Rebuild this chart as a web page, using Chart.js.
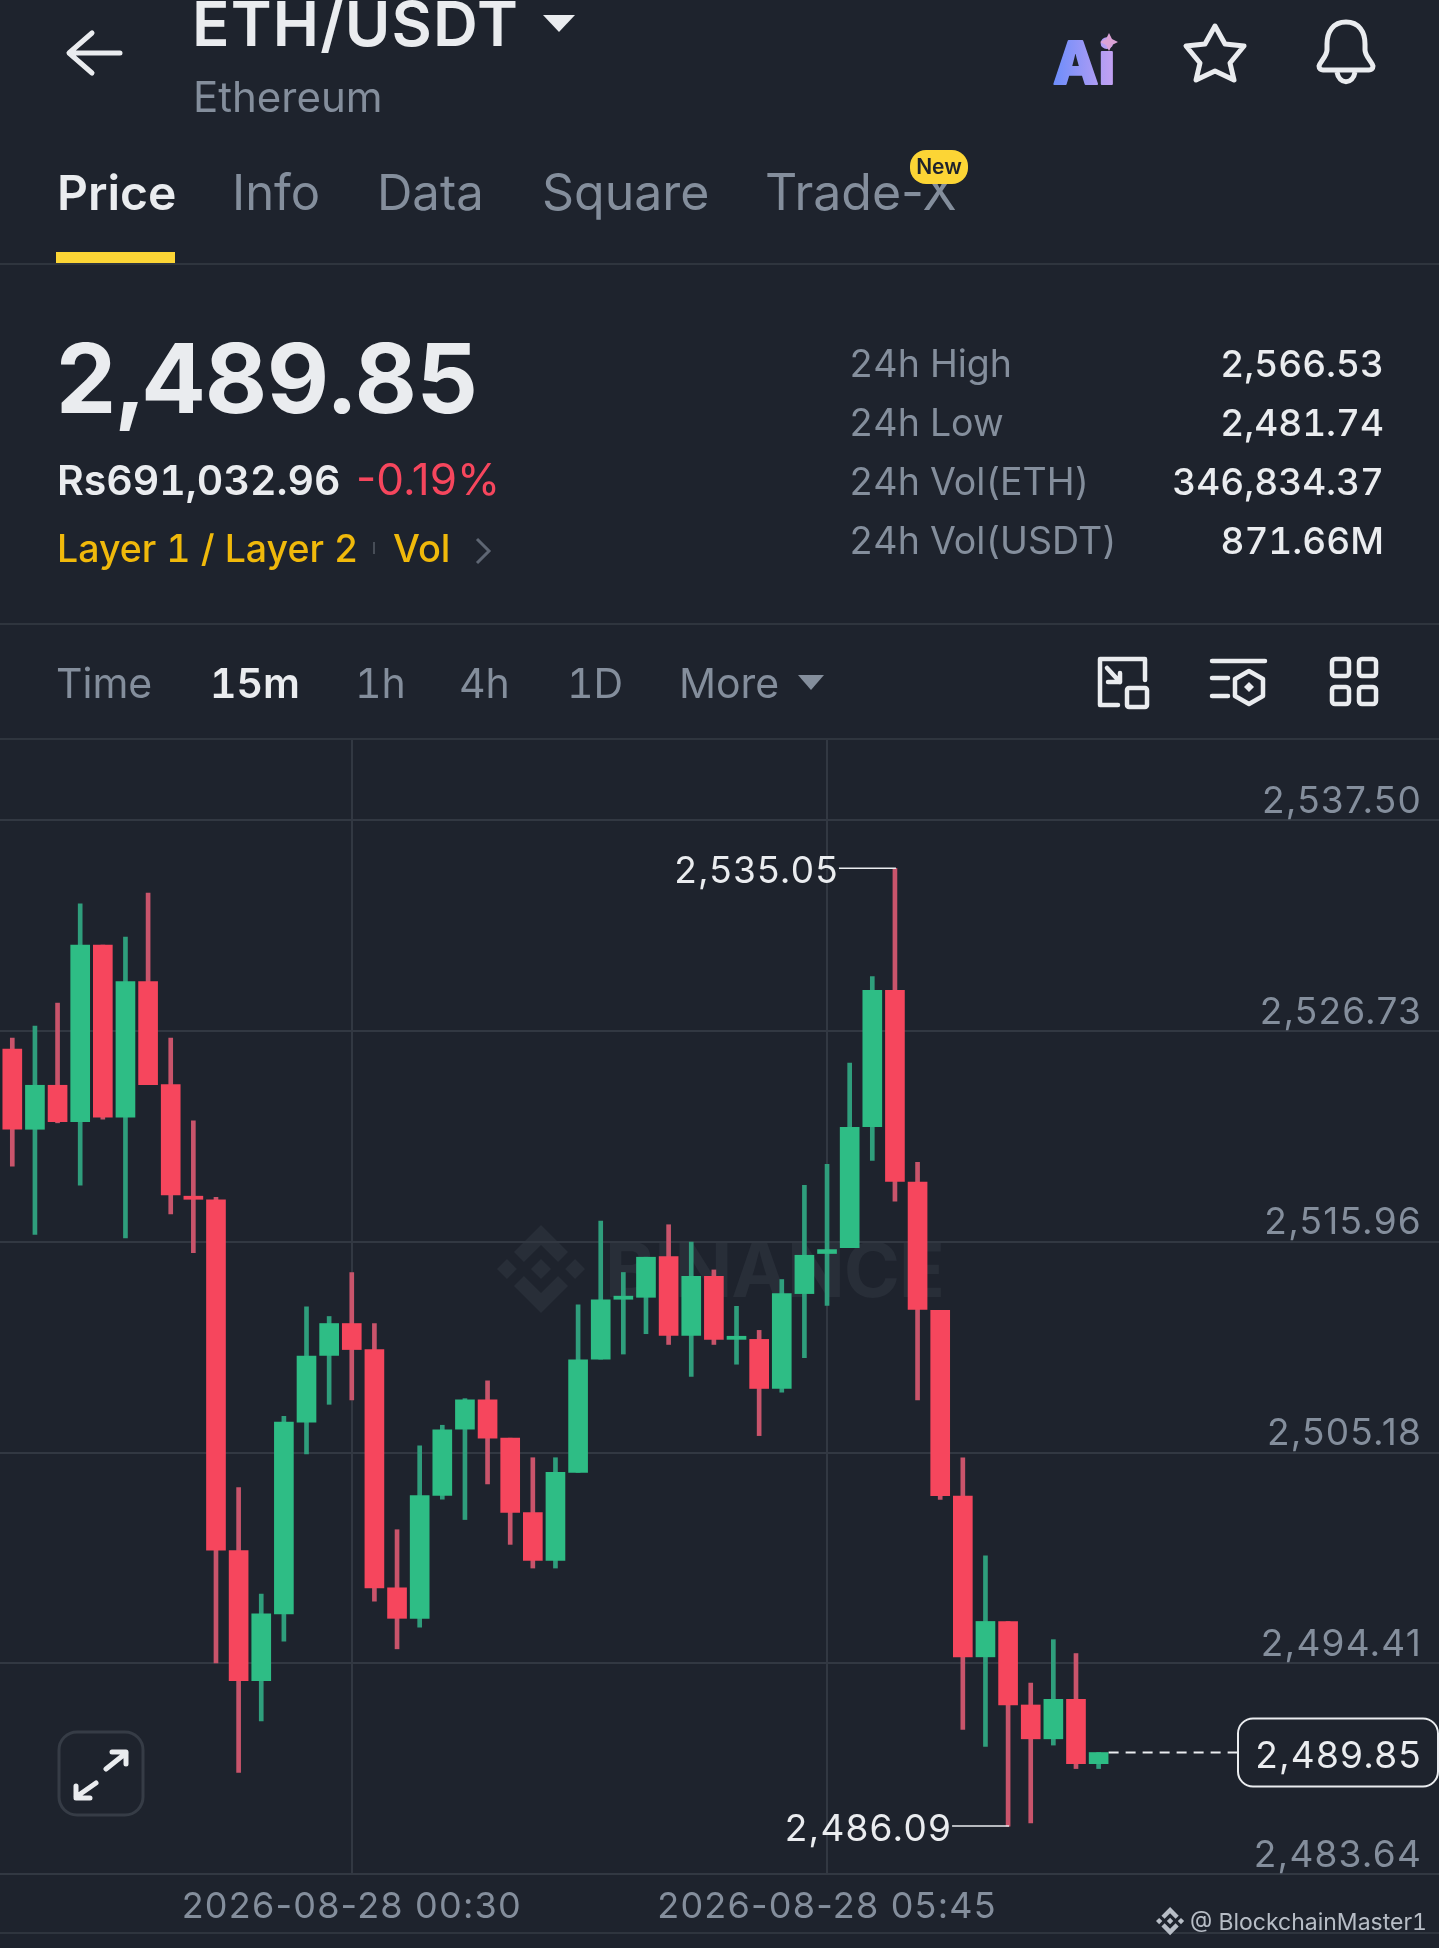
<!DOCTYPE html>
<html>
<head>
<meta charset="utf-8">
<title>ETH/USDT</title>
<script src="https://cdn.jsdelivr.net/npm/chart.js@4"></script>
<style>
  html, body { margin: 0; padding: 0; background: #1e232d; }
  #page { position: relative; width: 1439px; height: 1948px; overflow: hidden; background: #1e232d; font-family: Inter, sans-serif; }
  #under, #over { position: absolute; left: 0; top: 0; }
  #chartBox { position: absolute; left: 0; top: 740px; width: 1439px; height: 1193px; }
  text { font-family: Inter, sans-serif; font-variant-numeric: tabular-nums; }
  .gray { fill: #848e9c; }
  .light { fill: #eaecef; }
  .yellow { fill: #f0b90b; }
  .plain { font-variant-numeric: normal; }
</style>
</head>
<body>
<div id="page">
  <!-- watermark sits under the canvas -->
  <svg id="under" width="1439" height="1948">
    <g transform="translate(497,1225) scale(2.75)" fill="#282e38">
      <path d="M9.786 13.445 16 7.232l6.217 6.217 3.616-3.616L16 0 6.17 9.83l3.616 3.615zM0 16l3.616-3.616L7.232 16l-3.616 3.615zm9.786 2.556L16 24.768l6.217-6.217 3.618 3.613L16 32l-9.83-9.83-.005-.005zM24.768 16l3.616-3.616L32 16l-3.615 3.616zm-5.1 0L16 12.334 12.336 16 16 19.668z"/>
    </g>
    <text x="605" y="1297" font-size="76" font-weight="700" fill="#282e38" textLength="340">BINANCE</text>
  </svg>

  <div id="chartBox"><canvas id="klineChart"></canvas></div>

  <svg id="over" width="1439" height="1948" style="pointer-events:none">
    <defs>
      <linearGradient id="aiGrad" x1="0" y1="0" x2="1" y2="0">
        <stop offset="0" stop-color="#6c8dfb"/>
        <stop offset="1" stop-color="#c6a2f2"/>
      </linearGradient>
    </defs>

    <!-- top bar -->
    <path d="M120 53H70M92 33L69 53L92 73" fill="none" stroke="#eaecef" stroke-width="5" stroke-linecap="round" stroke-linejoin="round"/>
    <text x="192" y="46" font-size="62" font-weight="600" class="light" textLength="326">ETH/USDT</text>
    <path d="M543 15H575L559 32Z" fill="#eaecef"/>
    <text x="193" y="112" font-size="42" class="gray">Ethereum</text>
    <text x="1053" y="84" font-size="59" font-weight="800" fill="url(#aiGrad)" stroke="url(#aiGrad)" stroke-width="2" stroke-linejoin="round">Ai</text>
    <path d="M1109 33l3 6 6 3-6 3-3 6-3-6-6-3 6-3z" fill="#dba3d6"/>
    <path d="M1215 26L1225 44L1244 46L1230 63L1234 80L1215 71L1196 80L1200 63L1186 46L1205 44Z" fill="none" stroke="#eaecef" stroke-width="5" stroke-linejoin="round"/>
    <path d="M1346 22C1333 22 1327 32 1327 44V50C1327 56 1320 62 1319 66C1319 69 1321 70 1323 70H1369C1371 70 1373 69 1373 66C1372 62 1365 56 1365 50V44C1365 32 1359 22 1346 22Z" fill="none" stroke="#eaecef" stroke-width="5" stroke-linejoin="round"/>
    <path d="M1337 72C1339 85 1353 85 1355 72" fill="none" stroke="#eaecef" stroke-width="5"/>

    <!-- tabs -->
    <text x="57" y="210" font-size="48" font-weight="600" class="light">Price</text>
    <text x="232" y="210" font-size="49" class="gray">Info</text>
    <text x="377" y="210" font-size="49" class="gray">Data</text>
    <text x="542" y="210" font-size="50" class="gray">Square</text>
    <text x="765" y="210" font-size="50" class="gray plain">Trade-X</text>
    <rect x="910" y="150" width="58" height="34" rx="16" fill="#fcd535"/>
    <text x="939" y="174" font-size="21" font-weight="600" fill="#1e232d" text-anchor="middle">New</text>
    <rect x="56" y="252" width="119" height="11" fill="#fcd535"/>
    <rect x="0" y="263" width="1439" height="2" fill="#2f353e"/>

    <!-- price block -->
    <text x="55" y="413" font-size="96" font-weight="700" class="light">2,489.85</text>
    <text x="57" y="495" font-size="41" font-weight="600" class="light">Rs691,032.96</text>
    <text x="356" y="495" font-size="44" fill="#f6465d" class="plain">-0.19%</text>
    <text x="57" y="562" font-size="37.5" font-weight="500" class="yellow">Layer 1 / Layer 2</text>
    <rect x="373" y="542" width="2" height="12" fill="#474d57"/>
    <text x="393" y="562" font-size="38" font-weight="500" class="yellow">Vol</text>
    <path d="M477 539L489 551L477 563" fill="none" stroke="#5e6673" stroke-width="3"/>

    <!-- 24h stats -->
    <text x="849" y="377" font-size="37.5" class="gray">24h High</text>
    <text x="849" y="436" font-size="37.5" class="gray">24h Low</text>
    <text x="849" y="495" font-size="37.5" class="gray">24h Vol(ETH)</text>
    <text x="849" y="554" font-size="37.5" class="gray">24h Vol(USDT)</text>
    <text x="1384" y="377" font-size="37" font-weight="500" class="light" text-anchor="end">2,566.53</text>
    <text x="1384" y="436" font-size="37" font-weight="500" class="light" text-anchor="end">2,481.74</text>
    <text x="1384" y="495" font-size="37" font-weight="500" class="light" text-anchor="end">346,834.37</text>
    <text x="1384" y="554" font-size="37" font-weight="500" class="light" text-anchor="end">871.66M</text>
    <rect x="0" y="623" width="1439" height="2" fill="#2f353e"/>

    <!-- interval row -->
    <text x="56" y="698" font-size="41" class="gray">Time</text>
    <text x="210" y="698" font-size="41" font-weight="600" class="light">15m</text>
    <text x="355" y="698" font-size="41" class="gray">1h</text>
    <text x="459" y="698" font-size="41" class="gray">4h</text>
    <text x="567" y="698" font-size="41" class="gray">1D</text>
    <text x="679" y="698" font-size="41" class="gray">More</text>
    <path d="M798 675H824L811 690Z" fill="#848e9c"/>
    <g fill="none" stroke="#eaecef" stroke-width="4.5" stroke-linecap="round" stroke-linejoin="round">
      <path d="M1118 705H1100V659H1145V680"/>
      <rect x="1127" y="688" width="20" height="19" rx="2"/>
      <path d="M1107 668L1120 682M1120 673V682H1108"/>
      <path d="M1212 661H1265M1212 678H1228M1212 696H1228"/>
      <path d="M1249 671L1263 679V696L1249 704L1235 696V679Z"/>
      <rect x="1332" y="659" width="17" height="17" rx="3"/>
      <rect x="1359" y="659" width="17" height="17" rx="3"/>
      <rect x="1332" y="687" width="17" height="17" rx="3"/>
      <rect x="1359" y="687" width="17" height="17" rx="3"/>
    </g>
    <path d="M1249 682L1254 687L1249 692L1244 687Z" fill="#eaecef"/>
    <rect x="0" y="738" width="1439" height="2" fill="#2f353e"/>

    <!-- expand button -->
    <rect x="59" y="1732" width="84" height="83" rx="18" fill="#1e232d" stroke="#363c46" stroke-width="3"/>
    <path d="M106 1769L126 1753M112 1752H126V1764M96 1783L76 1797M90 1798H76V1786" fill="none" stroke="#eaecef" stroke-width="5" stroke-linecap="round" stroke-linejoin="round"/>

    <!-- bottom -->
    <rect x="0" y="1932" width="1439" height="2" fill="#2f353e"/>
    <g transform="translate(1156,1907) scale(0.88)" fill="#b7bdc6">
      <path d="M9.786 13.445 16 7.232l6.217 6.217 3.616-3.616L16 0 6.17 9.83l3.616 3.615zM0 16l3.616-3.616L7.232 16l-3.616 3.615zm9.786 2.556L16 24.768l6.217-6.217 3.618 3.613L16 32l-9.83-9.83-.005-.005zM24.768 16l3.616-3.616L32 16l-3.615 3.616zm-5.1 0L16 12.334 12.336 16 16 19.668z"/>
    </g>
    <text x="1190" y="1930" font-size="23" fill="#b7bdc6" textLength="237">@ BlockchainMaster1</text>
  </svg>
</div>

<script>
  "use strict";

  // candles, left to right (15m each)
  const opens = [
    2525.81, 2521.71, 2523.96, 2522.10, 2531.12, 2522.33, 2529.26, 2523.99, 2518.29, 2518.10,
    2500.17, 2493.52, 2496.94, 2506.74, 2510.15, 2511.78, 2510.45, 2498.27, 2496.71, 2502.99,
    2506.38, 2507.88, 2505.92, 2502.12, 2499.67, 2504.17, 2509.96, 2513.02, 2513.12, 2515.20,
    2511.17, 2514.19, 2510.97, 2510.97, 2508.46, 2513.31, 2515.36, 2515.66, 2521.84, 2528.81,
    2519.01, 2512.45, 2502.96, 2494.74, 2496.55, 2492.28, 2490.55, 2492.57, 2489.28,
  ];
  const highs = [
    2526.37, 2526.99, 2528.16, 2533.24, 2531.12, 2531.54, 2533.79, 2526.37, 2522.14, 2518.23,
    2503.39, 2497.95, 2507.03, 2512.63, 2512.14, 2514.39, 2511.78, 2501.24, 2505.53, 2506.58,
    2507.94, 2508.85, 2505.92, 2504.92, 2504.92, 2512.73, 2517.02, 2514.39, 2515.17, 2516.83,
    2515.95, 2514.52, 2512.66, 2511.43, 2514.03, 2518.85, 2519.92, 2525.10, 2529.52, 2535.05,
    2520.02, 2512.45, 2504.91, 2499.91, 2496.55, 2493.40, 2495.62, 2494.91, 2489.85,
  ];
  const lows = [
    2519.82, 2516.34, 2522.04, 2518.85, 2522.23, 2516.15, 2523.99, 2517.38, 2515.40, 2494.43,
    2488.83, 2491.47, 2495.54, 2505.11, 2507.65, 2507.88, 2497.59, 2495.15, 2496.26, 2502.80,
    2501.76, 2503.58, 2500.49, 2499.28, 2499.28, 2504.17, 2509.96, 2510.22, 2511.26, 2510.71,
    2509.08, 2510.71, 2509.70, 2506.05, 2508.27, 2510.03, 2512.70, 2515.66, 2520.12, 2518.03,
    2507.88, 2502.79, 2491.03, 2490.16, 2486.09, 2486.25, 2490.23, 2489.03, 2489.03,
  ];
  const closes = [
    2521.71, 2523.96, 2522.10, 2531.12, 2522.33, 2529.26, 2523.99, 2518.36, 2518.13, 2500.20,
    2493.52, 2496.94, 2506.74, 2510.12, 2511.78, 2510.45, 2498.27, 2496.71, 2502.99, 2506.35,
    2507.88, 2505.92, 2502.12, 2499.67, 2504.17, 2509.93, 2512.99, 2513.18, 2515.17, 2511.17,
    2514.19, 2510.97, 2511.13, 2508.46, 2513.31, 2515.27, 2515.56, 2521.81, 2528.81, 2519.04,
    2512.50, 2502.98, 2494.74, 2496.55, 2492.28, 2490.55, 2492.57, 2489.28, 2489.85,
  ];

  const priceTicks = [2537.5, 2526.73, 2515.96, 2505.18, 2494.41, 2483.64];
  const timeTickIndex = [15, 36];
  const timeTickLabels = ["2026-08-28 00:30", "2026-08-28 05:45"];
  const lastPrice = 2489.85;
  const highIndex = 39;
  const lowIndex = 44;

  const money = (v) => v.toLocaleString("en-US", { minimumFractionDigits: 2, maximumFractionDigits: 2 });

  const UP = "#2ebd85";
  const DOWN = "#f6465d";
  const UP_WICK = "#2f9e7c";
  const DOWN_WICK = "#c9546b";
  const GRID = "#323842";
  const BG = "#1e232d";

  const indexes = opens.map((_, i) => i);

  // high / low callouts and the last price tag
  const callouts = {
    id: "callouts",
    beforeDraw(chart) {
      // the app's digits run wider than Inter's
      chart.ctx.letterSpacing = "1.2px";
    },
    afterDatasetsDraw(chart) {
      const { ctx, scales } = chart;
      const x = scales.x;
      const y = scales.y;
      ctx.save();
      ctx.font = "37px Inter";
      ctx.textBaseline = "middle";

      [[highIndex, highs[highIndex]], [lowIndex, lows[lowIndex]]].forEach(([i, price]) => {
        const px = x.getPixelForValue(i);
        const py = y.getPixelForValue(price);
        ctx.strokeStyle = "#eaecef";
        ctx.lineWidth = 1.5;
        ctx.beginPath();
        ctx.moveTo(px - 56, py);
        ctx.lineTo(px + 1, py);
        ctx.stroke();
        ctx.fillStyle = "#eaecef";
        ctx.textAlign = "right";
        ctx.fillText(money(price), px - 56, py + 4);
      });

      const py = y.getPixelForValue(lastPrice);
      const boxLeft = 1238;
      ctx.strokeStyle = "#eaecef";
      ctx.lineWidth = 2;
      ctx.setLineDash([10, 7]);
      ctx.beginPath();
      ctx.moveTo(x.getPixelForValue(opens.length - 1) + 10, py);
      ctx.lineTo(boxLeft, py);
      ctx.stroke();
      ctx.setLineDash([]);
      ctx.fillStyle = BG;
      ctx.beginPath();
      ctx.roundRect(boxLeft, py - 34, 200, 68, 15);
      ctx.fill();
      ctx.stroke();
      ctx.fillStyle = "#eaecef";
      ctx.textAlign = "right";
      ctx.fillText(money(lastPrice), 1422, py + 4);
      ctx.restore();
    },
  };

  new Chart(document.getElementById("klineChart"), {
    type: "bar",
    data: {
      datasets: [
        {
          label: "body",
          data: indexes.map((i) => ({ x: i, y: [opens[i], closes[i]] })),
          backgroundColor: indexes.map((i) => (closes[i] >= opens[i] ? UP : DOWN)),
          barThickness: 19,
          grouped: false,
        },
        {
          label: "wick",
          data: indexes.map((i) => ({ x: i, y: [lows[i], highs[i]] })),
          backgroundColor: indexes.map((i) => (closes[i] >= opens[i] ? UP_WICK : DOWN_WICK)),
          barThickness: 4,
          grouped: false,
        },
      ],
    },
    options: {
      responsive: true,
      maintainAspectRatio: false,
      animation: false,
      layout: { padding: 0 },
      plugins: { legend: { display: false }, tooltip: { enabled: false } },
      scales: {
        x: {
          type: "linear",
          offset: false,
          min: -0.5435,
          max: 63.04,
          afterBuildTicks: (scale) => {
            scale.ticks = timeTickIndex.map((v) => ({ value: v }));
          },
          afterFit: (scale) => {
            scale.height = 59;
            scale.paddingLeft = 0;
            scale.paddingRight = 0;
          },
          border: { display: false },
          grid: { offset: false, color: GRID, lineWidth: 2, drawTicks: false },
          ticks: {
            autoSkip: false,
            maxRotation: 0,
            padding: 12,
            color: "#848e9c",
            font: { family: "Inter", size: 36 },
            callback: (v) => timeTickLabels[timeTickIndex.indexOf(v)],
          },
        },
        y: {
          position: "right",
          min: 2483.64,
          max: 2541.61,
          afterBuildTicks: (scale) => {
            scale.ticks = priceTicks.map((v) => ({ value: v }));
          },
          afterFit: (scale) => {
            scale.width = 0;
            scale.paddingTop = 0;
            scale.paddingBottom = 0;
          },
          border: { display: false },
          grid: { color: GRID, lineWidth: 2, drawTicks: false },
          ticks: {
            mirror: true,
            padding: -17,
            labelOffset: -18.5,
            color: "#848e9c",
            font: { family: "Inter", size: 37 },
            callback: (v) => money(v),
          },
        },
      },
    },
    plugins: [callouts],
  });
</script>
</body>
</html>
